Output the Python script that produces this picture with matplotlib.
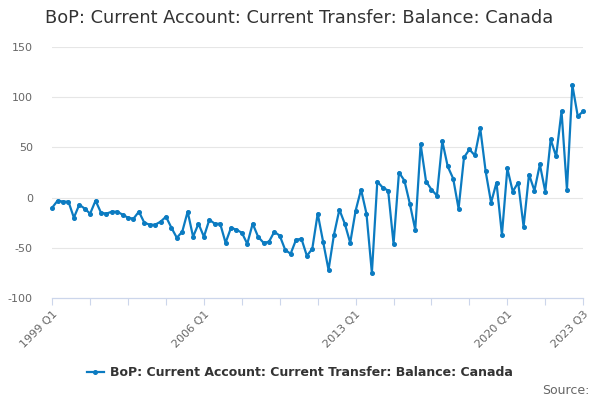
import matplotlib
matplotlib.use("Agg")
import matplotlib.pyplot as plt

# Quarterly values, 1999 Q1 .. 2023 Q3
values = [
    -10, -3, -4, -4, -20, -7, -11, -16, -3, -15,
    -16, -14, -14, -17, -20, -21, -14, -25, -27, -27,
    -24, -19, -30, -40, -34, -14, -39, -26, -39, -22,
    -26, -26, -45, -30, -32, -35, -46, -26, -39, -45,
    -44, -34, -38, -52, -56, -42, -41, -58, -51, -16,
    -44, -72, -37, -12, -26, -45, -13, 8, -16, -75,
    16, 10, 7, -46, 25, 17, -6, -32, 53, 16,
    8, 2, 56, 31, 19, -11, 40, 48, 42, 69,
    26, -5, 15, -37, 29, 6, 15, -29, 23, 7,
    33, 6, 58, 41, 86, 8, 112, 81, 86,
]
quarters = [f"{1999 + i // 4} Q{i % 4 + 1}" for i in range(len(values))]
label_quarters = ["1999 Q1", "2006 Q1", "2013 Q1", "2020 Q1", "2023 Q3"]
y_ticks = [-100, -50, 0, 50, 100, 150]

title = "BoP: Current Account: Current Transfer: Balance: Canada"
line_color = "#0b7bc1"

fig = plt.figure(figsize=(6, 4), dpi=100)
ax = fig.add_axes([0.087, 0.255, 0.885, 0.6275])

x = list(range(len(values)))
ax.plot(x, values, color=line_color, linewidth=1.6, marker="o",
        markersize=2.6, label=title, zorder=3, clip_on=False)

ax.set_ylim(-100, 150)
ax.set_xlim(0, len(values) - 1)
ax.set_yticks(y_ticks)
ax.set_yticklabels([str(v) for v in y_ticks], color="#666666", fontsize=8)
ax.tick_params(axis="y", length=0, pad=14)
for v in y_ticks[1:]:
    ax.axhline(v, color="#e6e6e6", linewidth=0.8, zorder=1)

tick_pos = list(range(0, len(values), 7))
ax.set_xticks(tick_pos)
ax.set_xticklabels([quarters[i] if quarters[i] in label_quarters else "" for i in tick_pos],
                   rotation=45, ha="right", rotation_mode="anchor",
                   color="#666666", fontsize=8)
ax.tick_params(axis="x", length=5, color="#ccd6eb", width=0.8, pad=3)

for s in ["top", "right", "left"]:
    ax.spines[s].set_visible(False)
ax.spines["bottom"].set_color("#ccd6eb")
ax.spines["bottom"].set_linewidth(0.9)

fig.text(0.075, 0.955, title, fontsize=12.8, color="#333333", va="center", ha="left")

leg = fig.legend(loc="center", bbox_to_anchor=(0.5, 0.068), frameon=False,
                 handlelength=1.4, handletextpad=0.5,
                 prop={"size": 9, "weight": "bold"})
for t in leg.get_texts():
    t.set_color("#333333")

fig.text(0.982, 0.025, "Source:", fontsize=9, color="#666666", ha="right", va="center")

fig.savefig("out.png", dpi=100)
